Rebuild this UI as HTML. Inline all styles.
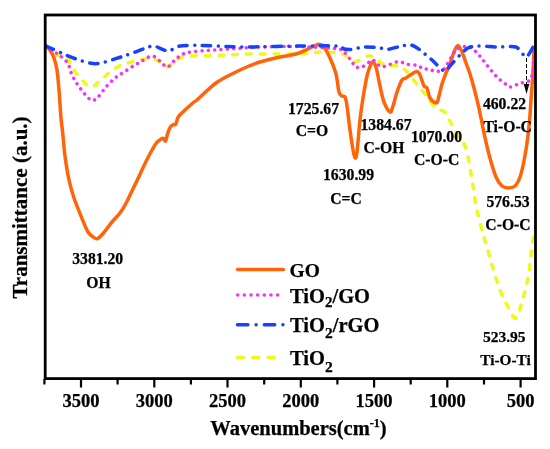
<!DOCTYPE html>
<html><head><meta charset="utf-8"><title>FTIR</title>
<style>
html,body{margin:0;padding:0;background:#fff;}
svg{display:block}
text{font-family:"Liberation Serif",serif;font-weight:bold;fill:#000;stroke:#000;stroke-width:0.25px}
</style></head><body>
<svg width="550" height="449" viewBox="0 0 550 449">
<rect width="550" height="449" fill="#fff"/>
<g fill="none" stroke-linejoin="round">
<path d="M46.0,46.0 C47.3,47.5 50.7,53.4 54.0,55.0 C57.3,56.6 63.0,53.6 66.0,55.6 C69.0,57.6 69.5,63.1 72.0,67.0 C74.5,70.9 77.8,75.7 81.0,79.0 C84.2,82.3 87.5,87.0 91.0,87.0 C94.5,87.0 98.2,82.0 102.0,79.0 C105.8,76.0 109.7,71.7 114.0,69.0 C118.3,66.3 122.3,64.7 128.0,63.0 C133.7,61.3 142.7,58.8 148.0,58.6 C153.3,58.4 156.8,60.6 160.0,62.0 C163.2,63.4 164.7,67.0 167.0,67.0 C169.3,67.0 171.8,63.5 174.0,62.0 C176.2,60.5 177.3,59.0 180.0,58.0 C182.7,57.0 183.3,56.4 190.0,56.0 C196.7,55.6 210.2,55.7 220.0,55.4 C229.8,55.1 235.7,54.2 249.0,54.0 C262.3,53.8 288.2,54.3 300.0,54.0 C311.8,53.7 313.7,52.2 320.0,52.0 C326.3,51.8 333.7,52.3 338.0,53.0 C342.3,53.7 343.3,54.6 346.0,56.0 C348.7,57.4 351.7,60.9 354.0,61.6 C356.3,62.3 357.7,60.9 360.0,60.0 C362.3,59.1 365.8,56.5 368.0,56.0 C370.2,55.5 371.0,56.0 373.0,57.0 C375.0,58.0 377.5,60.5 380.0,62.0 C382.5,63.5 385.3,65.4 388.0,66.0 C390.7,66.6 393.3,65.1 396.0,65.6 C398.7,66.1 401.3,66.9 404.0,69.0 C406.7,71.1 409.3,74.8 412.0,78.0 C414.7,81.2 417.3,84.7 420.0,88.0 C422.7,91.3 426.0,95.3 428.0,98.0 C430.0,100.7 430.5,102.2 432.0,104.0 C433.5,105.8 435.5,107.5 437.0,108.5 C438.5,109.5 439.7,109.7 441.0,110.3 C442.3,110.9 443.8,110.7 445.0,112.0 C446.2,113.3 447.2,115.8 448.4,118.0 C449.6,120.2 450.3,122.0 452.0,125.0 C453.7,128.0 456.4,132.5 458.6,136.0 C460.8,139.5 463.3,141.8 465.0,146.0 C466.7,150.2 467.9,156.3 469.0,161.5 C470.1,166.7 470.7,171.9 471.5,177.0 C472.3,182.1 473.2,187.2 474.0,192.0 C474.8,196.8 474.7,199.7 476.0,206.0 C477.3,212.3 479.7,221.3 482.0,230.0 C484.3,238.7 487.0,248.0 490.0,258.0 C493.0,268.0 496.7,281.2 500.0,290.0 C503.3,298.8 507.3,305.8 510.0,310.5 C512.7,315.2 514.0,319.4 516.0,318.0 C518.0,316.6 520.0,308.7 522.0,302.0 C524.0,295.3 526.4,286.7 528.0,278.0 C529.6,269.3 530.7,257.0 531.6,250.0 C532.5,243.0 533.3,238.3 533.6,236.0" stroke="#f0f818" stroke-width="3.5" stroke-linecap="round" stroke-dasharray="4.8 9" />
<path d="M46.0,46.0 C46.7,46.7 48.7,48.0 50.0,50.0 C51.3,52.0 52.8,54.7 54.0,58.0 C55.2,61.3 56.2,64.7 57.0,70.0 C57.8,75.3 58.3,82.0 59.0,90.0 C59.7,98.0 60.4,111.3 61.0,118.0 C61.6,124.7 61.7,123.7 62.4,130.0 C63.1,136.3 63.9,147.7 65.0,156.0 C66.1,164.3 67.5,173.0 69.0,180.0 C70.5,187.0 72.0,192.0 74.0,198.0 C76.0,204.0 78.7,210.3 81.0,216.0 C83.3,221.7 85.8,228.4 88.0,232.0 C90.2,235.6 92.3,236.5 94.0,237.6 C95.7,238.7 96.3,239.3 98.0,238.4 C99.7,237.5 101.7,235.1 104.0,232.4 C106.3,229.7 109.3,225.2 112.0,222.0 C114.7,218.8 117.7,216.0 120.0,213.0 C122.3,210.0 123.8,207.3 125.6,204.0 C127.4,200.7 129.3,196.6 131.0,193.0 C132.7,189.4 134.2,186.4 136.0,182.7 C137.8,179.0 139.7,174.9 141.5,171.0 C143.3,167.1 145.3,162.8 147.0,159.5 C148.7,156.2 150.0,153.7 151.5,151.0 C153.0,148.3 154.6,145.4 156.0,143.5 C157.4,141.6 158.8,140.7 160.0,139.8 C161.2,138.9 162.1,138.0 163.0,138.2 C163.9,138.4 164.8,141.7 165.6,141.0 C166.3,140.3 166.8,136.2 167.5,134.0 C168.2,131.8 169.1,129.1 170.0,127.6 C170.9,126.1 172.1,125.3 173.0,124.8 C173.9,124.3 175.0,125.0 175.6,124.4 C176.2,123.8 176.3,122.3 176.8,121.0 C177.3,119.7 177.2,118.4 178.4,116.7 C179.6,115.0 181.5,113.4 184.0,111.0 C186.5,108.6 191.2,104.3 193.4,102.5 C195.6,100.7 193.2,103.2 197.0,100.0 C200.8,96.8 209.8,87.5 216.0,83.0 C222.2,78.5 228.5,75.8 234.0,73.0 C239.5,70.2 244.7,67.8 249.0,66.0 C253.3,64.2 254.8,63.5 260.0,62.0 C265.2,60.5 274.0,58.3 280.0,57.0 C286.0,55.7 291.3,55.3 296.0,54.0 C300.7,52.7 304.7,50.5 308.0,49.0 C311.3,47.5 314.0,45.8 316.0,45.0 C318.0,44.2 318.7,44.1 320.0,44.4 C321.3,44.7 322.3,44.7 324.0,47.0 C325.7,49.3 328.0,53.5 330.0,58.0 C332.0,62.5 334.5,68.3 336.0,74.0 C337.5,79.7 338.0,88.3 339.0,92.0 C340.0,95.7 341.0,95.2 342.0,96.0 C343.0,96.8 344.2,95.3 345.0,97.0 C345.8,98.7 346.2,100.5 347.0,106.0 C347.8,111.5 349.0,122.7 350.0,130.0 C351.0,137.3 352.2,145.3 353.0,150.0 C353.8,154.7 354.3,157.7 355.0,158.0 C355.7,158.3 356.2,158.3 357.0,152.0 C357.8,145.7 359.0,129.0 360.0,120.0 C361.0,111.0 361.8,105.3 363.0,98.0 C364.2,90.7 365.7,81.7 367.0,76.0 C368.3,70.3 370.0,66.3 371.0,64.0 C372.0,61.7 372.2,61.5 373.0,62.0 C373.8,62.5 374.8,63.0 376.0,67.0 C377.2,71.0 378.7,80.2 380.0,86.0 C381.3,91.8 382.3,97.7 384.0,102.0 C385.7,106.3 388.5,111.3 390.0,112.0 C391.5,112.7 391.8,109.3 393.0,106.0 C394.2,102.7 395.5,96.3 397.0,92.0 C398.5,87.7 400.5,82.3 402.0,80.0 C403.5,77.7 404.3,79.0 406.0,78.0 C407.7,77.0 410.2,75.1 412.0,74.0 C413.8,72.9 415.7,71.4 417.0,71.6 C418.3,71.8 418.8,72.6 420.0,75.0 C421.2,77.4 422.8,83.8 424.0,86.0 C425.2,88.2 426.0,86.0 427.0,88.0 C428.0,90.0 428.5,95.5 430.0,98.0 C431.5,100.5 434.7,102.7 436.0,103.0 C437.3,103.3 437.0,103.2 438.0,100.0 C439.0,96.8 440.7,88.5 442.0,84.0 C443.3,79.5 444.7,76.3 446.0,73.0 C447.3,69.7 448.7,67.5 450.0,64.0 C451.3,60.5 452.7,55.1 454.0,52.0 C455.3,48.9 456.7,45.6 458.0,45.6 C459.3,45.6 460.7,49.1 462.0,52.0 C463.3,54.9 464.7,59.3 466.0,63.0 C467.3,66.7 468.7,69.8 470.0,74.0 C471.3,78.2 472.7,83.0 474.0,88.0 C475.3,93.0 476.8,99.0 478.0,104.0 C479.2,109.0 480.0,113.2 481.0,118.0 C482.0,122.8 482.6,126.7 484.0,133.0 C485.4,139.3 487.4,148.7 489.4,156.0 C491.4,163.3 493.9,172.0 496.0,177.0 C498.1,182.0 499.9,184.2 502.0,186.0 C504.1,187.8 506.3,188.0 508.5,188.0 C510.7,188.0 513.1,187.8 515.0,186.0 C516.9,184.2 518.5,181.2 520.0,177.0 C521.5,172.8 522.7,167.5 524.0,161.0 C525.3,154.5 526.7,145.7 527.7,138.0 C528.7,130.3 529.5,121.3 530.0,115.0 C530.5,108.7 530.5,107.2 531.0,100.0 C531.5,92.8 532.5,80.3 533.0,72.0 C533.5,63.7 533.8,53.7 534.0,50.0" stroke="#ff6409" stroke-width="3.5" stroke-linecap="round"/>
<path d="M46.0,46.0 C49.3,48.5 61.7,56.2 66.0,61.0 C70.3,65.8 69.7,70.5 72.0,75.0 C74.3,79.5 76.8,83.8 80.0,88.0 C83.2,92.2 88.0,98.5 91.0,100.0 C94.0,101.5 95.5,99.2 98.0,97.0 C100.5,94.8 103.2,90.2 106.0,87.0 C108.8,83.8 112.0,80.5 115.0,78.0 C118.0,75.5 120.8,74.1 124.0,72.0 C127.2,69.9 131.0,67.4 134.0,65.6 C137.0,63.8 139.0,62.6 142.0,61.0 C145.0,59.4 149.0,56.0 152.0,56.0 C155.0,56.0 157.5,59.2 160.0,61.0 C162.5,62.8 164.7,67.0 167.0,67.0 C169.3,67.0 171.5,63.1 174.0,61.0 C176.5,58.9 178.7,56.0 182.0,54.4 C185.3,52.8 188.7,52.3 194.0,51.6 C199.3,50.9 206.7,50.5 214.0,50.0 C221.3,49.5 230.3,48.9 238.0,48.4 C245.7,47.9 249.7,47.3 260.0,47.0 C270.3,46.7 287.0,46.3 300.0,46.6 C313.0,46.9 330.3,47.8 338.0,49.0 C345.7,50.2 343.7,51.8 346.0,54.0 C348.3,56.2 350.3,59.8 352.0,62.0 C353.7,64.2 354.3,66.2 356.0,67.0 C357.7,67.8 360.0,67.7 362.0,67.0 C364.0,66.3 366.2,64.2 368.0,63.0 C369.8,61.8 371.0,59.5 373.0,60.0 C375.0,60.5 377.8,65.0 380.0,66.0 C382.2,67.0 383.3,66.7 386.0,66.0 C388.7,65.3 393.3,62.6 396.0,62.0 C398.7,61.4 400.0,62.0 402.0,62.4 C404.0,62.8 405.3,63.9 408.0,64.4 C410.7,64.9 415.5,64.8 418.0,65.6 C420.5,66.4 421.2,68.4 423.0,69.0 C424.8,69.6 426.8,68.6 429.0,69.0 C431.2,69.4 433.5,71.6 436.0,71.6 C438.5,71.6 442.0,70.4 444.0,69.0 C446.0,67.6 446.7,65.2 448.0,63.0 C449.3,60.8 450.7,58.2 452.0,56.0 C453.3,53.8 454.3,51.5 456.0,50.0 C457.7,48.5 459.7,47.5 462.0,47.0 C464.3,46.5 467.3,45.8 470.0,47.0 C472.7,48.2 475.3,51.2 478.0,54.0 C480.7,56.8 483.0,60.3 486.0,64.0 C489.0,67.7 492.7,72.6 496.0,76.0 C499.3,79.4 503.5,82.6 506.0,84.4 C508.5,86.2 508.7,87.2 511.0,87.0 C513.3,86.8 516.7,84.4 519.6,83.4 C522.5,82.4 526.7,82.1 528.6,81.0 C530.5,79.9 530.3,78.5 531.0,77.0 C531.7,75.5 532.5,76.5 533.0,72.0 C533.5,67.5 533.8,53.7 534.0,50.0" stroke="#f232f5" stroke-width="3.5" stroke-linecap="round" stroke-dasharray="0.01 6.3"/>
<path d="M46.0,46.0 C48.7,47.2 61.2,53.0 66.0,55.0 C70.8,57.0 77.7,59.9 82.0,61.0 C86.3,62.1 92.4,64.3 98.0,63.6 C103.6,62.9 117.7,58.0 124.0,56.0 C130.3,54.0 141.0,49.7 145.0,48.4 C149.0,47.1 150.9,45.7 154.0,46.0 C157.1,46.3 164.5,51.0 168.0,51.0 C171.5,51.0 175.7,46.7 180.0,46.0 C184.3,45.3 193.9,45.3 200.0,45.4 C206.1,45.5 219.3,46.2 226.0,46.4 C232.7,46.6 240.1,47.1 250.0,47.0 C259.9,46.9 288.3,46.1 300.0,46.0 C311.7,45.9 332.1,45.6 338.0,46.0 C343.9,46.4 342.1,48.5 344.0,49.0 C345.9,49.5 349.3,49.7 352.0,49.4 C354.7,49.1 360.5,47.2 364.0,47.0 C367.5,46.8 374.8,47.3 378.0,47.6 C381.2,47.9 385.1,49.6 388.0,49.4 C390.9,49.2 396.9,47.0 400.0,46.4 C403.1,45.8 408.3,44.5 411.0,45.0 C413.7,45.5 417.2,48.0 420.0,50.0 C422.8,52.0 428.8,57.2 432.0,60.0 C435.2,62.8 441.6,70.2 444.0,71.0 C446.4,71.8 447.9,68.1 450.0,66.0 C452.1,63.9 457.6,57.4 460.0,55.0 C462.4,52.6 465.6,49.2 468.0,48.0 C470.4,46.8 474.0,46.1 478.0,46.0 C482.0,45.9 492.9,46.9 498.0,47.0 C503.1,47.1 512.3,45.7 516.0,47.0 C519.7,48.3 523.7,57.0 526.0,57.0 C528.3,57.0 532.1,48.3 533.0,47.0" stroke="#1642ff" stroke-width="3.5" stroke-linecap="round" stroke-dasharray="8.3 7.6 0.01 7.6"/>
</g>
<!-- arrow -->
<line x1="526.5" y1="58" x2="526.5" y2="86" stroke="#000" stroke-width="1" stroke-dasharray="4 2"/>
<polygon points="523.7,84 529.3,84 526.5,94" fill="#000"/>
<!-- frame -->
<rect x="45.2" y="15" width="490.3" height="363.6" fill="none" stroke="#000" stroke-width="2.8"/>
<line x1="44.4" y1="379" x2="44.4" y2="384.5" stroke="#000" stroke-width="2.2"/>
<line x1="81.0" y1="379" x2="81.0" y2="387.5" stroke="#000" stroke-width="2.2"/>
<line x1="117.6" y1="379" x2="117.6" y2="384.5" stroke="#000" stroke-width="2.2"/>
<line x1="154.3" y1="379" x2="154.3" y2="387.5" stroke="#000" stroke-width="2.2"/>
<line x1="190.9" y1="379" x2="190.9" y2="384.5" stroke="#000" stroke-width="2.2"/>
<line x1="227.5" y1="379" x2="227.5" y2="387.5" stroke="#000" stroke-width="2.2"/>
<line x1="264.2" y1="379" x2="264.2" y2="384.5" stroke="#000" stroke-width="2.2"/>
<line x1="300.8" y1="379" x2="300.8" y2="387.5" stroke="#000" stroke-width="2.2"/>
<line x1="337.4" y1="379" x2="337.4" y2="384.5" stroke="#000" stroke-width="2.2"/>
<line x1="374.1" y1="379" x2="374.1" y2="387.5" stroke="#000" stroke-width="2.2"/>
<line x1="410.7" y1="379" x2="410.7" y2="384.5" stroke="#000" stroke-width="2.2"/>
<line x1="447.3" y1="379" x2="447.3" y2="387.5" stroke="#000" stroke-width="2.2"/>
<line x1="484.0" y1="379" x2="484.0" y2="384.5" stroke="#000" stroke-width="2.2"/>
<line x1="520.6" y1="379" x2="520.6" y2="387.5" stroke="#000" stroke-width="2.2"/>

<text x="81.0" y="407" text-anchor="middle" font-size="18.5">3500</text>
<text x="154.3" y="407" text-anchor="middle" font-size="18.5">3000</text>
<text x="227.5" y="407" text-anchor="middle" font-size="18.5">2500</text>
<text x="300.8" y="407" text-anchor="middle" font-size="18.5">2000</text>
<text x="374.1" y="407" text-anchor="middle" font-size="18.5">1500</text>
<text x="447.3" y="407" text-anchor="middle" font-size="18.5">1000</text>
<text x="520.6" y="407" text-anchor="middle" font-size="18.5">500</text>

<text x="97.7" y="264" text-anchor="middle" font-size="15.7">3381.20</text>
<text x="98.5" y="288" text-anchor="middle" font-size="15.7">OH</text>
<text x="313.5" y="113.6" text-anchor="middle" font-size="15.7">1725.67</text>
<text x="312" y="136.4" text-anchor="middle" font-size="15.7">C=O</text>
<text x="348.5" y="180" text-anchor="middle" font-size="15.7">1630.99</text>
<text x="346" y="204" text-anchor="middle" font-size="15.7">C=C</text>
<text x="386" y="129.6" text-anchor="middle" font-size="15.7">1384.67</text>
<text x="384" y="153" text-anchor="middle" font-size="15.7">C-OH</text>
<text x="436.5" y="142" text-anchor="middle" font-size="15.7">1070.00</text>
<text x="436.6" y="165" text-anchor="middle" font-size="15.7">C-O-C</text>
<text x="504.5" y="109" text-anchor="middle" font-size="15.7">460.22</text>
<text x="507.7" y="131.8" text-anchor="middle" font-size="15.7">Ti-O-C</text>
<text x="508" y="207" text-anchor="middle" font-size="15.7">576.53</text>
<text x="508" y="230" text-anchor="middle" font-size="15.7">C-O-C</text>
<text x="504.2" y="342" text-anchor="middle" font-size="15.5">523.95</text>
<text x="505.5" y="364.5" text-anchor="middle" font-size="15.3">Ti-O-Ti</text>

<text x="298.5" y="435" text-anchor="middle" font-size="20.5">Wavenumbers(cm<tspan dy="-8" font-size="12">-1</tspan><tspan dy="8">)</tspan></text>
<text transform="translate(26.5,207.5) rotate(-90)" text-anchor="middle" font-size="21">Transmittance (a.u.)</text>
<!-- legend -->
<g fill="none">
<line x1="237.6" y1="269.6" x2="283.4" y2="269.6" stroke="#ff6409" stroke-width="3.5" stroke-linecap="round"/>
<line x1="237.7" y1="295" x2="280" y2="295" stroke="#f232f5" stroke-width="3.6" stroke-linecap="round" stroke-dasharray="0.01 6.64"/>
<line x1="237.5" y1="324.8" x2="285" y2="324.8" stroke="#1642ff" stroke-width="3.5" stroke-linecap="round" stroke-dasharray="10.4 8.2 0.01 8.2"/>
<line x1="237.5" y1="357.6" x2="276" y2="357.6" stroke="#f0f818" stroke-width="3.6" stroke-linecap="round" stroke-dasharray="5.8 9.6"/>
</g>
<text x="289.5" y="276.8" font-size="19.5">GO</text>
<text x="290" y="302.7" font-size="20.5">TiO<tspan dy="4.5" font-size="15">2</tspan><tspan dy="-4.5">/GO</tspan></text>
<text x="290" y="331.8" font-size="20.5">TiO<tspan dy="6.5" font-size="15.5">2</tspan><tspan dy="-6.5">/rGO</tspan></text>
<text x="290" y="365" font-size="20.5">TiO<tspan dy="6.5" font-size="15.5">2</tspan></text>
</svg>
</body></html>
